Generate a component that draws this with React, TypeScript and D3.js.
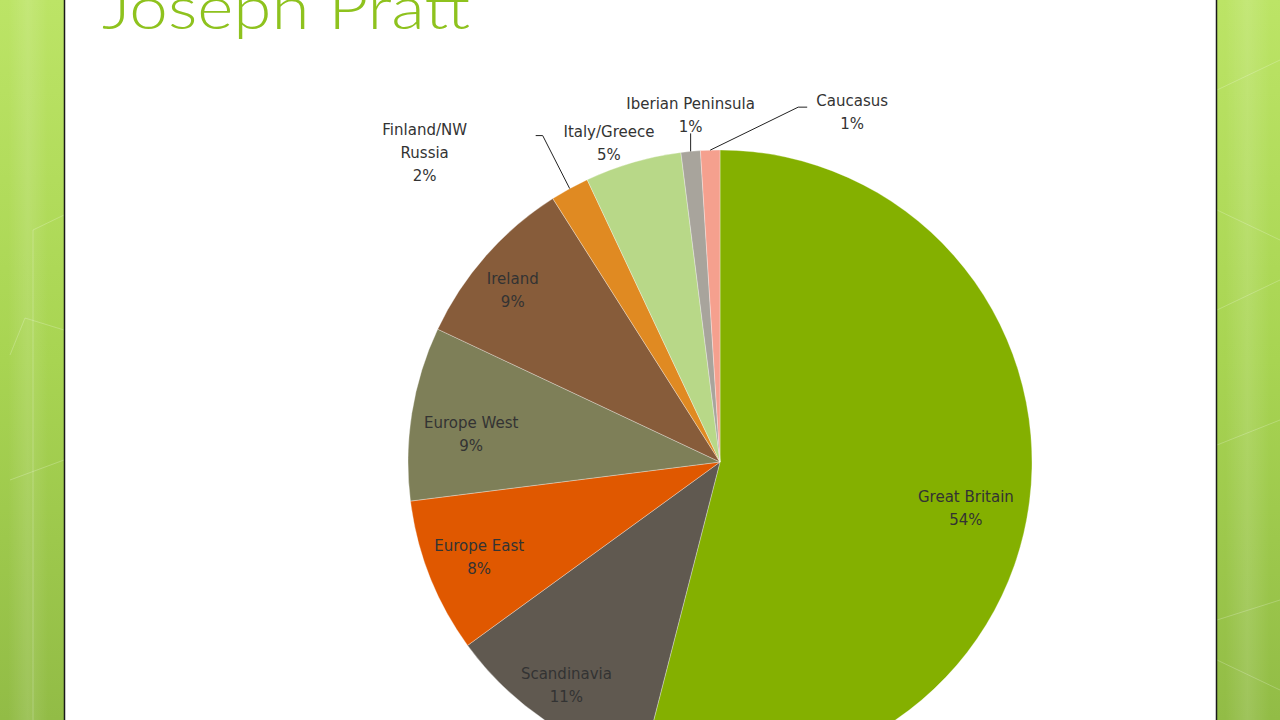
import React from "react";
import * as d3 from "d3";

const categories = [
  "Great Britain",
  "Scandinavia",
  "Europe East",
  "Europe West",
  "Ireland",
  "Finland/NW Russia",
  "Italy/Greece",
  "Iberian Peninsula",
  "Caucasus",
];
const values = [54, 11, 8, 9, 9, 2, 5, 1, 1];
const colors = [
  "#84B000",
  "#605950",
  "#E05800",
  "#7E7F58",
  "#875C3A",
  "#E08A22",
  "#B8D888",
  "#A8A49C",
  "#F5A08E",
];
const labelLines: string[][] = [
  ["Great Britain"],
  ["Scandinavia"],
  ["Europe East"],
  ["Europe West"],
  ["Ireland"],
  ["Finland/NW", "Russia"],
  ["Italy/Greece"],
  ["Iberian Peninsula"],
  ["Caucasus"],
];
const title = "Joseph Pratt";

// inside-label nudges (px) from the centroid position
const insideNudge: Record<string, [number, number]> = {
  "Great Britain": [-11, 14],
  Scandinavia: [-8, 9],
  "Europe East": [0, 0],
  "Europe West": [7, 13],
  Ireland: [-13, -1],
};
// outside-label layout: offsets (px) from slice's outer mid point
const outsideLayout: Record<string, { dx: number; dy: number; leader?: [number, number][] }> = {
  "Finland/NW Russia": { dx: -145, dy: -36, leader: [[-27, -53], [-34, -53]] },
  "Italy/Greece": { dx: -24, dy: -19 },
  "Iberian Peninsula": { dx: 0, dy: -36, leader: [[0, -18]] },
  Caucasus: { dx: 142, dy: -38, leader: [[88, -43], [97, -43]] },
};

const W = 1280;
const H = 720;
const cx = 720;
const cy = 462;
const R = 312;
const LH = 23;
const FONT = "'DejaVu Sans', sans-serif";

export default function App() {
  const data = categories.map((c, i) => ({ c, v: values[i], color: colors[i], lines: labelLines[i] }));
  const pie = d3.pie<any>().value((d) => d.v).sort(null);
  const arcs = pie(data);
  const arc = d3.arc<any>().innerRadius(0).outerRadius(R);
  const labelArc = d3.arc<any>().innerRadius(R * 0.83).outerRadius(R * 0.83);
  const outerArc = d3.arc<any>().innerRadius(R).outerRadius(R);

  const renderLabel = (lines: string[], x: number, y: number, key: string) => {
    const n = lines.length;
    const first = y - ((n - 1) * LH) / 2 + 5.5;
    return (
      <text key={key} x={x} textAnchor="middle" fontFamily={FONT} fontSize={15} fill="#333">
        {lines.map((l, i) => (
          <tspan key={i} x={x} y={first + i * LH}>
            {l}
          </tspan>
        ))}
      </text>
    );
  };

  return (
    <svg width={W} height={H} style={{ position: "absolute", left: 0, top: 0 }}>
      <defs>
        <linearGradient id="bgG" x1="0" y1="0" x2="0" y2="1">
          <stop offset="0" stopColor="#BCE466" />
          <stop offset="0.5" stopColor="#A8D452" />
          <stop offset="1" stopColor="#92BC46" />
        </linearGradient>
        <linearGradient id="bandG" x1="0" y1="0" x2="1" y2="0">
          <stop offset="0" stopColor="#ffffff" stopOpacity="0" />
          <stop offset="0.5" stopColor="#ffffff" stopOpacity="0.12" />
          <stop offset="1" stopColor="#ffffff" stopOpacity="0" />
        </linearGradient>
      </defs>
      <rect x={0} y={0} width={W} height={H} fill="url(#bgG)" />
      <rect x={8} y={0} width={40} height={H} fill="url(#bandG)" />
      <rect x={1225} y={0} width={45} height={H} fill="url(#bandG)" />
      <g stroke="#ffffff" strokeOpacity={0.22} fill="none" strokeWidth={1}>
        <polyline points="33,720 33,230 64,215" />
        <polyline points="10,355 25,318 64,330" />
        <polyline points="10,480 64,460" />
        <polyline points="1217,90 1280,60" />
        <polyline points="1217,210 1280,240" />
        <polyline points="1217,310 1280,280" />
        <polyline points="1217,445 1280,420" />
        <polyline points="1217,620 1280,600" />
        <polyline points="1217,660 1280,690" />
      </g>
      <rect x={64} y={0} width={1153} height={H} fill="#ffffff" />
      <line x1={64.5} y1={0} x2={64.5} y2={H} stroke="#1a1a1a" strokeWidth={1.5} />
      <line x1={1216.5} y1={0} x2={1216.5} y2={H} stroke="#1a1a1a" strokeWidth={1.5} />

      <text x={102} y={29} fontFamily="'Lato', sans-serif" fontWeight={300} fontSize={60} fill="#8EC21E" textLength={368} lengthAdjust="spacingAndGlyphs">
        {title}
      </text>

      <g transform={`translate(${cx},${cy})`}>
        {arcs.map((a, i) => (
          <path key={i} d={arc(a) || ""} fill={a.data.color} stroke="#ffffff" strokeOpacity={0.45} strokeWidth={0.7} />
        ))}
      </g>

      <g>
        {arcs.map((a, i) => {
          const lay = outsideLayout[a.data.c];
          if (!lay) {
            const [x, y] = labelArc.centroid(a);
            const [nx, ny] = insideNudge[a.data.c] || [0, 0];
            return renderLabel(a.data.lines.concat([`${a.data.v}%`]), cx + x + nx, cy + y + ny, "l" + i);
          }
          const [ox, oy] = outerArc.centroid(a);
          const px = cx + ox;
          const py = cy + oy;
          const els: any[] = [];
          if (lay.leader) {
            const pts = [[px, py], ...lay.leader.map(([dx, dy]) => [px + dx, py + dy])];
            els.push(
              <polyline key={"ld" + i} points={pts.map((p) => p.join(",")).join(" ")} fill="none" stroke="#222" strokeWidth={1} />
            );
          }
          els.push(renderLabel(a.data.lines.concat([`${a.data.v}%`]), px + lay.dx, py + lay.dy, "l" + i));
          return <g key={"g" + i}>{els}</g>;
        })}
      </g>
    </svg>
  );
}
